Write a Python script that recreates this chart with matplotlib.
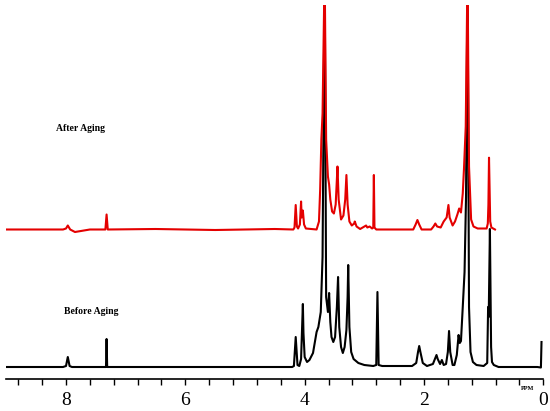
import matplotlib
matplotlib.use("Agg")
import matplotlib.pyplot as plt
from matplotlib.ticker import MultipleLocator, FixedLocator

# ---- data (ppm, intensity above own baseline) ----
before_ppm = [9.00, 8.05, 8.00, 7.97, 7.94, 7.90, 7.33, 7.32, 7.31, 5.5, 4.21,
              4.18, 4.15, 4.12, 4.09, 4.06, 4.03, 4.02, 4.00, 3.96, 3.92, 3.86,
              3.80, 3.77, 3.73, 3.70, 3.665, 3.64, 3.61, 3.59, 3.57, 3.55,
              3.52, 3.49, 3.46, 3.44, 3.42, 3.39, 3.36, 3.33, 3.30, 3.28, 3.27,
              3.25, 3.22, 3.18, 3.10, 3.00, 2.85, 2.80, 2.78, 2.76, 2.70, 2.20,
              2.13, 2.10, 2.08, 2.06, 2.02, 1.95, 1.85, 1.81, 1.79, 1.77, 1.73,
              1.70, 1.67, 1.63, 1.60, 1.58, 1.56, 1.52, 1.49, 1.45, 1.42, 1.40,
              1.38, 1.35, 1.32, 1.295, 1.27, 1.245, 1.22, 1.18, 1.12, 1.00,
              0.94, 0.925, 0.915, 0.895, 0.875, 0.86, 0.83, 0.75, 0.10, 0.04, 0.03]
before_int = [0, 0, 1, 10, 1, 0, 0, 28, 0, 0, 0,
              1, 30, 2, 1, 8, 63, 34, 10, 5, 7, 14,
              35, 40, 55, 110, 400, 70, 55, 74, 45, 30,
              25, 30, 60, 90, 40, 20, 14, 20, 37, 70, 102,
              40, 15, 8, 4, 2, 1, 2, 75, 2, 1, 1,
              4, 15, 21, 15, 4, 1, 3, 9, 12, 8, 3,
              7, 2, 3, 15, 36, 15, 2, 2, 12, 32, 24,
              26, 60, 95, 170, 400, 60, 15, 5, 2, 1,
              4, 60, 50, 138, 20, 5, 2, 0, 0, -0.5, 25]

after_ppm = [9.00, 8.05, 8.00, 7.97, 7.93, 7.85, 7.70, 7.60, 7.34, 7.32, 7.30,
             6.5, 5.5, 4.5, 4.19, 4.17, 4.15, 4.13, 4.11, 4.08, 4.06, 4.05,
             4.03, 4.01, 3.98, 3.80, 3.76, 3.74, 3.72, 3.70, 3.665, 3.64,
             3.61, 3.59, 3.57, 3.54, 3.51, 3.48, 3.46, 3.45, 3.43, 3.39, 3.35,
             3.32, 3.30, 3.28, 3.25, 3.21, 3.17, 3.16, 3.13, 3.07, 2.97, 2.95,
             2.91, 2.87, 2.85, 2.84, 2.83, 2.80, 2.18, 2.14, 2.11, 2.08, 2.04,
             1.88, 1.84, 1.81, 1.78, 1.72, 1.67, 1.62, 1.59, 1.57, 1.52, 1.48,
             1.44, 1.41, 1.38, 1.35, 1.33, 1.30, 1.27, 1.245, 1.21, 1.17,
             1.10, 0.95, 0.93, 0.92, 0.91, 0.90, 0.89, 0.87, 0.81]
after_int = [0, 0, 1, 4, 0, -2.5, -1, 0, 0, 15, 0,
             0.5, -0.5, 0.5, 0, 2, 24.5, 3, 1, 5, 28, 12,
             19, 5, 1, 0, 8, 40, 90, 116, 260, 90,
             53, 45, 30, 18, 16, 25, 50, 63, 30, 10, 14,
             30, 54.5, 25, 8, 4, 6, 8, 3, 0.5, 4, 2,
             3, 1, 2, 54.5, 2, 0, 0, 5, 9.5, 5, 0,
             0, 3, 6, 3, 2, 8, 12, 24.5, 12, 4, 8,
             15, 21, 17, 36, 60, 103, 260, 63, 10, 3,
             1, 1, 6, 25, 71.8, 40, 8, 2, 0]

labels = ["Before Aging", "After Aging"]
major_ticks = [0, 2, 4, 6, 8]

# ---- figure ----
fig = plt.figure(figsize=(5.5, 4.11), dpi=100)
ax = fig.add_axes([6.35 / 550, (411 - 379) / 411, (543.3 - 6.35) / 550, 374 / 411])

red_offset = 137.5
ax.plot(before_ppm, before_int, color="black", lw=1.5, solid_joinstyle="round")
ax.plot(after_ppm, [v + red_offset for v in after_int], color="#e40000", lw=1.5,
        solid_joinstyle="round")

ax.set_xlim(9.0, 0)
ax.set_ylim(-12, 362)

for s in ["top", "right", "left"]:
    ax.spines[s].set_visible(False)
ax.spines["bottom"].set_linewidth(1.2)
ax.set_yticks([])

ax.xaxis.set_major_locator(FixedLocator(major_ticks))
ax.xaxis.set_minor_locator(MultipleLocator(0.4))
ax.tick_params(axis="x", which="both", direction="out", length=4.5, width=1.0,
               pad=4.5, labelsize=14)
for lab in ax.get_xticklabels():
    lab.set_family("Liberation Serif")

fig.text(91 / 550, 1 - 312 / 411, labels[0], ha="center", va="center",
         family="Liberation Serif", fontweight="bold", fontsize=7)
fig.text(80.5 / 550, 1 - 128 / 411, labels[1], ha="center", va="center",
         family="Liberation Serif", fontweight="bold", fontsize=7)
fig.text(528 / 550, 1 - 388.5 / 411, "PPM", ha="center", va="center",
         family="Liberation Serif", fontweight="bold", fontsize=4.5)

fig.savefig("out.png", dpi=100)
